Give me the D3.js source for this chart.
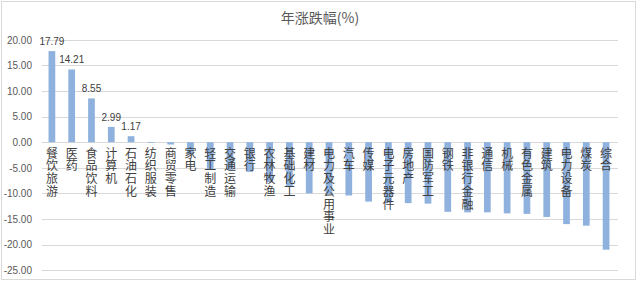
<!DOCTYPE html>
<html>
<head>
<meta charset="utf-8">
<script src="https://cdn.jsdelivr.net/npm/d3@7"></script>
<style>
  body { margin: 0; background: #fff; }
  svg { display: block; }
</style>
</head>
<body>
<svg id="chart" width="640" height="282"></svg>
<script>
// sectors and their yearly change (%)
const categories = ['餐饮旅游', '医药', '食品饮料', '计算机', '石油石化', '纺织服装', '商贸零售', '家电',
  '轻工制造', '交通运输', '银行', '农林牧渔', '基础化工', '建材', '电力及公用事业', '汽车', '传媒',
  '电子元器件', '房地产', '国防军工', '钢铁', '非银行金融', '通信', '机械', '有色金属', '建筑',
  '电力设备', '煤炭', '综合'];
const values = [17.79, 14.21, 8.55, 2.99, 1.17, -0.15, -0.45, -2.3,
  -5.3, -5.4, -5.8, -7.8, -8.6, -10.0, -10.2, -10.4, -11.6,
  -11.8, -11.9, -12.0, -13.6, -13.7, -13.7, -13.9, -14.0, -14.6,
  -16.0, -16.3, -21.0];
const yTicks = [20, 15, 10, 5, 0, -5, -10, -15, -20, -25];
const title = '年涨跌幅(%)';

const svg = d3.select('#chart');

const locale = d3.formatLocale({ decimal: '.', thousands: ',', grouping: [3], currency: ['', ''], minus: '-' });
const fmt = locale.format('.2f');

// outer frame
svg.append('rect')
  .attr('x', 1.5).attr('y', 1.5)
  .attr('width', 634).attr('height', 278)
  .attr('fill', '#fff')
  .attr('stroke', '#d9d9d9');

svg.append('text')
  .attr('x', 320).attr('y', 23)
  .attr('text-anchor', 'middle')
  .style('font-family', '"Noto Sans CJK SC", sans-serif')
  .style('font-size', '14px')
  .style('fill', '#595959')
  .text(title);

const x = d3.scaleBand()
  .domain(categories)
  .range([42, 616])
  .paddingInner(0.66)
  .paddingOuter(0.33);

const y = d3.scaleLinear()
  .domain([-25, 20])
  .range([270.2, 39.8]);

// gridlines
svg.append('g')
  .selectAll('line')
  .data(yTicks)
  .join('line')
  .attr('x1', 42).attr('x2', 618)
  .attr('y1', d => Math.round(y(d)) + 0.5)
  .attr('y2', d => Math.round(y(d)) + 0.5)
  .attr('stroke', '#d9d9d9')
  .attr('stroke-width', 1);

// y axis labels
const yAxis = svg.append('g')
  .attr('transform', 'translate(36,0)')
  .call(d3.axisLeft(y).tickValues(yTicks).tickFormat(fmt).tickSize(0).tickPadding(4));
yAxis.select('.domain').remove();
yAxis.selectAll('text')
  .style('font-family', '"Liberation Sans", Arial, sans-serif')
  .style('font-size', '10px')
  .style('fill', '#595959');

// bars
svg.append('g')
  .selectAll('rect')
  .data(values)
  .join('rect')
  .attr('x', (d, i) => x(categories[i]))
  .attr('width', x.bandwidth())
  .attr('y', d => y(Math.max(0, d)))
  .attr('height', d => Math.max(0.8, Math.abs(y(d) - y(0))))
  .attr('fill', '#8fb1de');

// data labels (positive bars only)
svg.append('g')
  .selectAll('text')
  .data(values.map((v, i) => ({ v, c: categories[i] })).filter(d => d.v > 0))
  .join('text')
  .attr('x', d => x(d.c) + x.bandwidth() / 2)
  .attr('y', d => y(d.v) - 6)
  .attr('text-anchor', 'middle')
  .style('font-family', '"Liberation Sans", Arial, sans-serif')
  .style('font-size', '10px')
  .style('fill', '#404040')
  .text(d => d.v.toFixed(2));

// vertical category labels, one text per category
svg.append('g')
  .selectAll('text')
  .data(categories)
  .join('text')
  .attr('x', d => x(d) + x.bandwidth() / 2)
  .attr('y', y(0) + 5)
  .style('writing-mode', 'vertical-rl')
  .style('text-orientation', 'upright')
  .style('letter-spacing', '0.7px')
  .style('font-family', '"Noto Sans CJK SC", sans-serif')
  .style('font-size', '12px')
  .style('fill', '#404040')
  .text(d => d);
</script>
</body>
</html>
